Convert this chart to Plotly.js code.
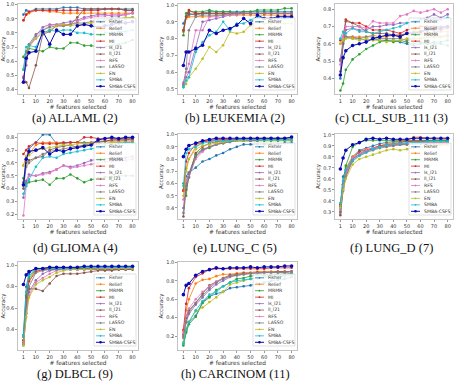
<!DOCTYPE html>
<html><head><meta charset="utf-8">
<script src="https://cdn.plot.ly/plotly-3.0.1.min.js"></script>
<style>html,body{margin:0;padding:0;background:#fff}#chart{width:474px;height:391px}</style>
</head><body><div id="chart"></div>
<script>
const featureCounts = [1,3,5,10,15,20,25,30,35,40,45,50,55,60,65,70,75,80];
const xTickVals = [1,10,20,30,40,50,60,70,80];
const methods = ["Fisher","Relief","MRMR","MI","ls_l21","ll_l21","RFS","LASSO","EN","SMBA","SMBA-CSFS"];
const colors = ["#1f77b4","#ff7f0e","#2ca02c","#d62728","#9467bd","#8c564b","#e377c2","#7f7f7f","#bcbd22","#17becf","#0a0ab4"];
const panelTitles = ["(a) ALLAML (2)","(b) LEUKEMIA (2)","(c) CLL_SUB_111 (3)","(d) GLIOMA (4)","(e) LUNG_C (5)","(f) LUNG_D (7)","(g) DLBCL (9)","(h) CARCINOM (11)"];

// rows follow the order of `methods`
const allaml = [
[0.93,0.96,0.95,0.97,0.97,0.97,0.97,0.98,0.98,0.98,0.97,0.97,0.97,0.97,0.97,0.97,0.97,0.97],
[0.89,0.93,0.94,0.96,0.96,0.95,0.95,0.94,0.94,0.94,0.94,0.94,0.94,0.94,0.94,0.94,0.94,0.94],
[0.63,0.67,0.69,0.68,0.67,0.70,0.69,0.69,0.73,0.73,0.71,0.71,0.70,0.70,0.71,0.72,0.73,0.75],
[0.89,0.93,0.95,0.96,0.96,0.96,0.96,0.96,0.96,0.96,0.96,0.96,0.96,0.97,0.97,0.97,0.96,0.96],
[0.49,0.57,0.70,0.78,0.84,0.86,0.86,0.87,0.88,0.89,0.91,0.92,0.93,0.93,0.92,0.92,0.93,0.94],
[0.48,0.45,0.41,0.57,0.79,0.81,0.85,0.85,0.86,0.91,0.97,0.97,0.97,0.97,0.97,0.97,0.96,0.96],
[0.46,0.62,0.72,0.76,0.82,0.85,0.86,0.86,0.86,0.88,0.90,0.91,0.92,0.92,0.93,0.93,0.93,0.94],
[0.54,0.66,0.72,0.79,0.82,0.84,0.85,0.85,0.86,0.87,0.87,0.88,0.89,0.89,0.90,0.90,0.90,0.91],
[0.54,0.63,0.70,0.76,0.80,0.82,0.85,0.86,0.85,0.86,0.86,0.87,0.88,0.89,0.89,0.90,0.91,0.91],
[0.54,0.70,0.71,0.70,0.80,0.82,0.81,0.82,0.82,0.80,0.80,0.79,0.79,0.80,0.80,0.81,0.81,0.82],
[0.45,0.62,0.66,0.67,0.81,0.72,0.82,0.79,0.79,0.85,0.86,0.85,0.84,0.85,0.86,0.87,0.87,0.88]];
const leukemia = [
[0.89,0.93,0.94,0.95,0.95,0.96,0.96,0.96,0.96,0.96,0.96,0.96,0.96,0.96,0.96,0.96,0.96,0.96],
[0.84,0.92,0.93,0.93,0.93,0.93,0.94,0.94,0.94,0.94,0.94,0.94,0.94,0.94,0.94,0.94,0.94,0.94],
[0.82,0.95,0.96,0.96,0.96,0.97,0.96,0.96,0.96,0.95,0.96,0.96,0.97,0.97,0.97,0.97,0.98,0.98],
[0.85,0.93,0.97,0.95,0.95,0.95,0.95,0.95,0.95,0.95,0.95,0.95,0.95,0.95,0.95,0.95,0.95,0.95],
[0.52,0.57,0.60,0.75,0.90,0.91,0.92,0.93,0.94,0.95,0.95,0.95,0.95,0.95,0.95,0.95,0.95,0.95],
[0.85,0.93,0.95,0.94,0.95,0.95,0.95,0.95,0.95,0.95,0.95,0.95,0.95,0.95,0.95,0.95,0.95,0.95],
[0.54,0.60,0.65,0.85,0.85,0.93,0.93,0.94,0.94,0.94,0.95,0.95,0.95,0.95,0.95,0.95,0.95,0.95],
[0.53,0.62,0.85,0.93,0.94,0.94,0.94,0.94,0.95,0.95,0.95,0.95,0.95,0.95,0.95,0.95,0.95,0.95],
[0.51,0.53,0.57,0.62,0.68,0.75,0.72,0.76,0.84,0.83,0.84,0.88,0.90,0.89,0.89,0.89,0.89,0.89],
[0.51,0.55,0.57,0.72,0.78,0.82,0.84,0.90,0.85,0.89,0.89,0.91,0.93,0.92,0.92,0.92,0.92,0.93],
[0.64,0.72,0.72,0.74,0.76,0.85,0.83,0.85,0.86,0.88,0.92,0.89,0.94,0.92,0.92,0.93,0.93,0.93]];
const cllSub111 = [
[0.40,0.62,0.64,0.64,0.63,0.62,0.63,0.62,0.62,0.62,0.61,0.60,0.59,0.60,0.60,0.61,0.61,0.62],
[0.60,0.61,0.64,0.64,0.64,0.64,0.65,0.64,0.64,0.65,0.65,0.66,0.66,0.66,0.66,0.67,0.67,0.67],
[0.33,0.37,0.45,0.51,0.54,0.57,0.59,0.61,0.62,0.61,0.62,0.61,0.60,0.61,0.60,0.60,0.60,0.59],
[0.62,0.64,0.74,0.72,0.72,0.70,0.68,0.68,0.68,0.67,0.66,0.68,0.69,0.70,0.70,0.70,0.70,0.70],
[0.50,0.60,0.68,0.69,0.68,0.68,0.70,0.70,0.71,0.71,0.72,0.72,0.73,0.74,0.75,0.77,0.75,0.77],
[0.44,0.60,0.73,0.72,0.70,0.67,0.66,0.66,0.66,0.65,0.65,0.66,0.67,0.67,0.68,0.68,0.68,0.69],
[0.48,0.64,0.70,0.70,0.70,0.69,0.73,0.72,0.72,0.72,0.76,0.77,0.79,0.78,0.79,0.80,0.78,0.80],
[0.51,0.61,0.64,0.63,0.63,0.64,0.64,0.63,0.63,0.63,0.63,0.62,0.63,0.63,0.64,0.64,0.64,0.65],
[0.60,0.62,0.63,0.63,0.62,0.63,0.62,0.62,0.61,0.62,0.62,0.63,0.63,0.63,0.64,0.64,0.64,0.64],
[0.63,0.67,0.66,0.69,0.67,0.67,0.66,0.67,0.68,0.69,0.70,0.72,0.73,0.74,0.74,0.74,0.74,0.75],
[0.42,0.52,0.56,0.59,0.60,0.61,0.63,0.64,0.65,0.65,0.64,0.66,0.66,0.67,0.68,0.69,0.69,0.70]];
const glioma = [
[0.45,0.64,0.71,0.76,0.82,0.82,0.75,0.75,0.76,0.76,0.76,0.76,0.77,0.77,0.78,0.78,0.78,0.78],
[0.58,0.65,0.67,0.74,0.76,0.76,0.76,0.76,0.76,0.76,0.75,0.76,0.76,0.77,0.77,0.77,0.77,0.77],
[0.48,0.44,0.45,0.46,0.47,0.43,0.48,0.48,0.51,0.48,0.45,0.47,0.48,0.49,0.49,0.50,0.50,0.50],
[0.67,0.70,0.73,0.76,0.75,0.75,0.75,0.76,0.76,0.76,0.80,0.80,0.79,0.79,0.79,0.79,0.79,0.79],
[0.33,0.46,0.51,0.50,0.52,0.53,0.55,0.58,0.57,0.58,0.60,0.62,0.63,0.63,0.64,0.64,0.64,0.65],
[0.40,0.60,0.62,0.64,0.65,0.70,0.72,0.73,0.74,0.72,0.74,0.75,0.76,0.77,0.78,0.78,0.78,0.79],
[0.19,0.42,0.50,0.50,0.51,0.52,0.55,0.58,0.56,0.57,0.58,0.59,0.60,0.61,0.61,0.62,0.62,0.63],
[0.42,0.57,0.60,0.64,0.67,0.69,0.70,0.71,0.72,0.73,0.74,0.74,0.75,0.75,0.76,0.76,0.76,0.76],
[0.58,0.65,0.66,0.70,0.71,0.72,0.73,0.74,0.74,0.75,0.75,0.75,0.75,0.75,0.76,0.76,0.76,0.76],
[0.36,0.42,0.47,0.57,0.64,0.65,0.64,0.67,0.68,0.69,0.70,0.71,0.72,0.73,0.74,0.75,0.76,0.76],
[0.43,0.63,0.69,0.70,0.72,0.67,0.70,0.69,0.71,0.72,0.73,0.74,0.78,0.79,0.80,0.79,0.80,0.80]];
const lungC = [
[0.54,0.66,0.69,0.73,0.78,0.80,0.83,0.85,0.88,0.90,0.92,0.92,0.92,0.92,0.92,0.92,0.93,0.93],
[0.55,0.72,0.80,0.90,0.94,0.95,0.95,0.95,0.95,0.96,0.96,0.96,0.96,0.96,0.96,0.96,0.96,0.96],
[0.60,0.50,0.68,0.84,0.88,0.89,0.92,0.93,0.94,0.95,0.95,0.95,0.95,0.95,0.95,0.95,0.95,0.95],
[0.54,0.78,0.85,0.92,0.94,0.95,0.96,0.96,0.96,0.96,0.97,0.97,0.97,0.97,0.97,0.97,0.97,0.97],
[0.40,0.60,0.68,0.82,0.87,0.90,0.92,0.94,0.95,0.95,0.95,0.95,0.96,0.96,0.96,0.96,0.96,0.96],
[0.33,0.55,0.65,0.85,0.90,0.93,0.94,0.95,0.95,0.96,0.96,0.96,0.96,0.96,0.96,0.96,0.96,0.96],
[0.47,0.63,0.66,0.80,0.86,0.90,0.92,0.94,0.95,0.95,0.96,0.96,0.96,0.96,0.96,0.96,0.96,0.96],
[0.36,0.58,0.65,0.82,0.88,0.90,0.92,0.93,0.94,0.95,0.95,0.95,0.95,0.96,0.96,0.96,0.96,0.96],
[0.50,0.70,0.80,0.88,0.91,0.92,0.93,0.94,0.95,0.95,0.95,0.96,0.96,0.96,0.96,0.96,0.96,0.96],
[0.58,0.85,0.88,0.90,0.93,0.94,0.95,0.95,0.95,0.96,0.96,0.96,0.96,0.96,0.96,0.96,0.96,0.96],
[0.82,0.88,0.91,0.93,0.95,0.96,0.97,0.97,0.97,0.97,0.97,0.97,0.97,0.97,0.97,0.97,0.97,0.98]];
const lungD = [
[0.35,0.62,0.68,0.80,0.86,0.88,0.90,0.92,0.93,0.94,0.94,0.94,0.95,0.95,0.95,0.95,0.95,0.95],
[0.33,0.52,0.70,0.80,0.85,0.87,0.88,0.90,0.92,0.93,0.94,0.95,0.98,0.98,0.97,0.96,0.96,0.96],
[0.30,0.55,0.72,0.89,0.93,0.95,0.95,0.95,0.95,0.95,0.95,0.95,0.95,0.95,0.95,0.95,0.95,0.95],
[0.37,0.55,0.65,0.78,0.82,0.85,0.88,0.90,0.91,0.92,0.93,0.94,0.94,0.94,0.94,0.93,0.93,0.94],
[0.30,0.52,0.66,0.78,0.83,0.86,0.88,0.89,0.90,0.91,0.92,0.92,0.93,0.93,0.93,0.93,0.93,0.93],
[0.27,0.50,0.62,0.78,0.85,0.86,0.87,0.89,0.90,0.91,0.91,0.92,0.92,0.92,0.92,0.92,0.91,0.92],
[0.32,0.54,0.64,0.79,0.82,0.86,0.88,0.89,0.90,0.91,0.92,0.92,0.93,0.93,0.93,0.93,0.93,0.93],
[0.29,0.49,0.62,0.76,0.81,0.84,0.86,0.88,0.89,0.90,0.91,0.91,0.92,0.92,0.92,0.92,0.92,0.92],
[0.34,0.50,0.60,0.73,0.78,0.80,0.82,0.84,0.86,0.87,0.86,0.87,0.88,0.89,0.90,0.90,0.91,0.91],
[0.38,0.58,0.68,0.77,0.81,0.84,0.87,0.89,0.91,0.92,0.92,0.93,0.93,0.93,0.94,0.94,0.94,0.94],
[0.69,0.79,0.86,0.91,0.93,0.96,0.97,0.96,0.97,0.96,0.96,0.96,0.97,0.97,0.97,0.97,0.97,0.97]];
const dlbcl = [
[0.35,0.80,0.92,0.97,0.97,0.98,0.98,0.98,0.98,0.98,0.98,0.98,0.98,0.98,0.98,0.98,0.98,0.98],
[0.30,0.65,0.86,0.95,0.96,0.97,0.97,0.97,0.97,0.97,0.97,0.97,0.97,0.97,0.97,0.97,0.97,0.97],
[0.33,0.72,0.88,0.96,0.97,0.97,0.97,0.97,0.97,0.97,0.97,0.97,0.97,0.97,0.97,0.97,0.97,0.97],
[0.30,0.70,0.85,0.94,0.96,0.96,0.96,0.96,0.96,0.96,0.96,0.96,0.96,0.96,0.96,0.96,0.96,0.97],
[0.28,0.55,0.75,0.86,0.92,0.95,0.96,0.96,0.96,0.96,0.96,0.96,0.96,0.96,0.96,0.96,0.96,0.96],
[0.26,0.62,0.78,0.78,0.76,0.83,0.90,0.92,0.92,0.92,0.93,0.94,0.95,0.95,0.95,0.96,0.96,0.96],
[0.27,0.55,0.72,0.84,0.88,0.92,0.95,0.96,0.96,0.96,0.96,0.97,0.97,0.97,0.97,0.97,0.97,0.97],
[0.28,0.62,0.80,0.93,0.95,0.96,0.96,0.97,0.97,0.97,0.97,0.97,0.97,0.97,0.97,0.97,0.97,0.97],
[0.25,0.52,0.70,0.82,0.86,0.89,0.93,0.95,0.96,0.96,0.96,0.96,0.97,0.97,0.97,0.97,0.97,0.97],
[0.34,0.75,0.90,0.96,0.97,0.97,0.97,0.97,0.97,0.98,0.98,0.98,0.98,0.98,0.98,0.98,0.98,0.98],
[0.82,0.91,0.94,0.97,0.97,0.98,0.98,0.98,0.98,0.98,0.99,0.99,0.99,0.99,0.99,0.99,0.99,0.99]];
const carcinom = [
[0.12,0.25,0.35,0.42,0.57,0.63,0.66,0.68,0.72,0.73,0.74,0.75,0.77,0.78,0.80,0.81,0.82,0.84],
[0.25,0.48,0.60,0.77,0.81,0.82,0.85,0.87,0.87,0.88,0.89,0.89,0.90,0.90,0.90,0.90,0.90,0.90],
[0.10,0.24,0.33,0.41,0.56,0.62,0.70,0.74,0.78,0.82,0.83,0.85,0.86,0.86,0.86,0.87,0.87,0.88],
[0.27,0.55,0.72,0.84,0.88,0.92,0.93,0.93,0.93,0.93,0.93,0.93,0.93,0.93,0.94,0.94,0.94,0.94],
[0.20,0.35,0.44,0.54,0.62,0.70,0.76,0.80,0.84,0.86,0.87,0.88,0.88,0.89,0.89,0.89,0.89,0.90],
[0.22,0.40,0.48,0.56,0.66,0.75,0.79,0.83,0.86,0.87,0.88,0.88,0.89,0.89,0.89,0.90,0.90,0.90],
[0.23,0.42,0.50,0.60,0.68,0.74,0.79,0.82,0.85,0.86,0.87,0.88,0.88,0.89,0.89,0.89,0.89,0.90],
[0.18,0.36,0.46,0.56,0.64,0.72,0.78,0.82,0.85,0.86,0.87,0.88,0.88,0.89,0.89,0.89,0.89,0.90],
[0.14,0.28,0.36,0.47,0.51,0.57,0.62,0.68,0.76,0.78,0.80,0.82,0.83,0.84,0.84,0.85,0.85,0.86],
[0.12,0.27,0.35,0.48,0.58,0.65,0.68,0.74,0.78,0.80,0.81,0.82,0.83,0.84,0.85,0.85,0.86,0.87],
[0.65,0.75,0.77,0.86,0.90,0.92,0.94,0.93,0.94,0.94,0.94,0.95,0.94,0.95,0.95,0.95,0.96,0.96]];

const datasets = [allaml, leukemia, cllSub111, glioma, lungC, lungD, dlbcl, carcinom];
const yRanges = [[0.367,1.005],[0.47,1.006],[0.31,0.83],[0.163,0.826],[0.31,1.005],[0.235,1.008],[0.21,1.03],[0.051,1.003]];
const yDticks = [0.1,0.1,0.1,0.1,0.1,0.1,0.2,0.2];

const W = 474, H = 391;
const colBounds = [[18,138],[178,297],[335,453]];
const rowBounds = [[4,94],[134,219],[262,350]];
const captionX = [75, 235, 391];
const captionY = [118, 248, 374];
const px = v => v / W, py = v => 1 - v / H;

const traces = [];
const layout = {
  width: W, height: H, margin: {l:0, r:0, t:0, b:0},
  showlegend: false, paper_bgcolor: '#fff', plot_bgcolor: '#fff',
  font: {family: 'DejaVu Sans', color: '#333'},
  shapes: [], annotations: []
};

datasets.forEach((ds, p) => {
  const c = p % 3, r = Math.floor(p / 3);
  const sfx = p === 0 ? '' : String(p + 1);
  const axCommon = {
    showline: true, mirror: true, linecolor: '#b5b5b5', linewidth: 0.8,
    showgrid: false, zeroline: false, ticks: 'outside', ticklen: 2, tickwidth: 0.6,
    tickcolor: '#555', tickfont: {size: 5, color: '#333', family: 'DejaVu Sans'}
  };
  layout['xaxis' + sfx] = Object.assign({}, axCommon, {
    domain: [px(colBounds[c][0]), px(colBounds[c][1])], anchor: 'y' + sfx,
    range: [-2.95, 83.95], tickmode: 'array', tickvals: xTickVals,
    title: {text: '# features selected', font: {size: 5.8, color: '#333'}, standoff: 2}
  });
  layout['yaxis' + sfx] = Object.assign({}, axCommon, {
    domain: [py(rowBounds[r][1]), py(rowBounds[r][0])], anchor: 'x' + sfx,
    range: yRanges[p], dtick: yDticks[p], tick0: 0, tickformat: '.1f',
    title: {text: 'Accuracy', font: {size: 5.5, color: '#333'}, standoff: 2}
  });
  methods.forEach((m, i) => {
    const main = i === methods.length - 1;
    traces.push({
      type: 'scatter', mode: 'lines+markers', name: m,
      x: featureCounts, y: ds[i], xaxis: 'x' + sfx, yaxis: 'y' + sfx,
      line: {color: colors[i], width: main ? 1 : 0.8},
      marker: {color: colors[i], size: main ? 3.6 : 2.6}
    });
  });
  // legend box (lower right)
  const bx1 = colBounds[c][1] - 2, by1 = rowBounds[r][1] - 4;
  const bx0 = bx1 - 42, by0 = by1 - 72;
  layout.shapes.push({type: 'rect', xref: 'paper', yref: 'paper', x0: px(bx0), x1: px(bx1), y0: py(by1), y1: py(by0),
    fillcolor: 'rgba(255,255,255,0.85)', line: {color: '#cccccc', width: 0.6}});
  methods.forEach((m, i) => {
    const main = i === methods.length - 1;
    const yy = by0 + 3.8 + i * 6.45;
    layout.shapes.push({type: 'line', xref: 'paper', yref: 'paper', x0: px(bx0 + 2), x1: px(bx0 + 11), y0: py(yy), y1: py(yy),
      line: {color: colors[i], width: main ? 1 : 0.8}});
    const rr = main ? 1.3 : 0.9;
    layout.shapes.push({type: 'circle', xref: 'paper', yref: 'paper', x0: px(bx0 + 6.5 - rr), x1: px(bx0 + 6.5 + rr),
      y0: py(yy + rr), y1: py(yy - rr), fillcolor: colors[i], line: {color: colors[i], width: 0}});
    layout.annotations.push({xref: 'paper', yref: 'paper', x: px(bx0 + 14), y: py(yy), xanchor: 'left', yanchor: 'middle',
      text: m, showarrow: false, borderpad: 0, font: {size: 4.6, color: '#333', family: 'DejaVu Sans'}});
  });
  layout.annotations.push({xref: 'paper', yref: 'paper', x: px(captionX[c]), y: py(captionY[r]), xanchor: 'center', yanchor: 'middle',
    text: panelTitles[p], showarrow: false, borderpad: 0, font: {size: 12.5, color: '#111', family: 'Liberation Serif'}});
});

Plotly.newPlot('chart', traces, layout, {displayModeBar: false, staticPlot: true});
</script>
</body></html>
